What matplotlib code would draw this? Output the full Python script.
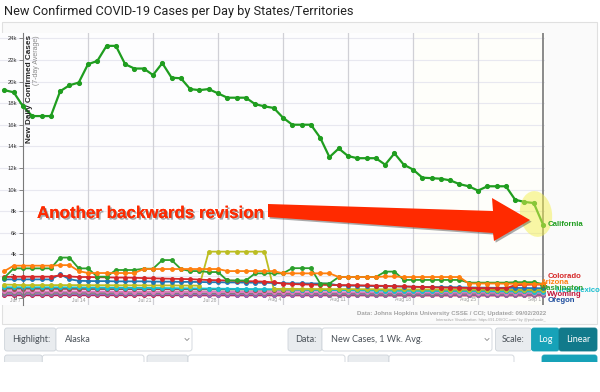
import numpy as np
import pandas as pd
import matplotlib
matplotlib.use("Agg")
import matplotlib.pyplot as plt
import matplotlib.dates as mdates
from matplotlib.patches import Rectangle, Ellipse, Polygon, FancyBboxPatch
import matplotlib.patheffects as pe

# ---------------- data ----------------
dates = pd.date_range("2022-07-05", "2022-09-01", freq="D")
week_ticks = pd.to_datetime(["2022-07-07", "2022-07-14", "2022-07-21", "2022-07-28", "2022-08-04",
                             "2022-08-11", "2022-08-18", "2022-08-25", "2022-09-01"])
week_labels = ["Jul 7", "Jul 14", "Jul 21", "Jul 28", "Aug 4", "Aug 11", "Aug 18", "Aug 25", "Sep 1"]
y_ticks = [0, 2, 4, 6, 8, 10, 12, 14, 16, 18, 20, 22, 24]
y_tick_labels = ["0", "2k", "4k", "6k", "8k", "10k", "12k", "14k", "16k", "18k", "20k", "22k", "24k"]

# values in thousands of cases (7-day average)
california = [19.2, 19.0, 17.7, 16.8, 16.8, 16.8, 19.1, 19.65, 19.9, 21.6,
              21.9, 23.3, 23.3, 21.6, 21.2, 21.2, 20.6, 21.7, 20.35, 20.3,
              19.3, 19.2, 19.3, 18.9, 18.5, 18.5, 18.5, 17.9, 17.7, 17.55,
              16.65, 16.0, 16.0, 16.0, 14.8, 13.0, 13.8, 13.1, 12.9, 12.9,
              12.9, 12.3, 13.35, 12.3, 11.85, 11.1, 11.05, 11.0, 10.85, 10.5,
              10.3, 9.9, 10.3, 10.3, 10.3, 9.05, 8.85, 8.75, 6.75]
arizona = [2.45, 2.95, 2.95, 2.95, 2.95, 2.95, 3.0, 3.0, 2.45, 2.27,
           2.27, 2.27, 2.27, 2.27, 2.27, 2.64, 2.64, 2.64, 2.64, 2.64,
           2.64, 2.64, 2.64, 2.64, 2.45, 2.45, 2.45, 2.45, 2.45, 2.45,
           2.24, 2.24, 2.24, 2.24, 2.24, 2.24, 1.9, 1.9, 1.9, 1.9,
           1.9, 1.95, 1.95, 1.9, 1.9, 1.9, 1.9, 1.9, 1.9, 1.9,
           1.3, 1.3, 1.3, 1.3, 1.28, 1.28, 1.28, 1.25, 1.25]
washington = [1.85, 2.7, 2.7, 2.7, 2.7, 2.7, 3.7, 3.7, 2.7, 2.7,
              1.93, 1.93, 2.55, 2.55, 2.55, 2.67, 2.67, 3.47, 3.47, 2.64,
              2.45, 2.45, 2.36, 2.36, 1.58, 1.58, 1.58, 2.24, 2.24, 2.24,
              2.24, 2.72, 2.72, 2.72, 1.3, 1.3, 1.9, 1.9, 1.9, 1.9,
              1.9, 2.4, 2.4, 1.63, 1.63, 1.63, 1.63, 1.63, 1.63, 1.63,
              1.38, 1.38, 1.38, 1.38, 1.38, 1.42, 1.42, 1.42, 1.25]
colorado = [1.9, 1.93, 1.93, 1.93, 1.93, 1.93, 2.05, 1.95, 1.9, 1.9,
            1.88, 1.87, 1.85, 1.85, 1.83, 1.8, 1.78, 1.76, 1.74, 1.72,
            1.7, 1.66, 1.62, 1.6, 1.58, 1.55, 1.52, 1.5, 1.47, 1.4,
            1.3, 1.25, 1.22, 1.2, 1.18, 1.16, 1.15, 1.15, 1.13, 1.12,
            1.1, 1.08, 1.05, 1.03, 1.0, 0.98, 0.95, 0.93, 0.92, 0.9,
            0.88, 0.87, 0.86, 0.85, 0.86, 1.15, 1.18, 1.2, 1.2]
oregon = [1.68, 1.68, 1.68, 1.68, 1.68, 1.68, 2.15, 1.7, 1.55, 1.53,
          1.52, 1.52, 1.5, 1.5, 1.5, 1.5, 1.48, 1.47, 1.47, 1.45,
          1.45, 1.44, 1.42, 1.42, 1.4, 1.4, 1.38, 1.38, 1.36, 1.35,
          1.32, 1.31, 1.31, 1.3, 1.3, 1.28, 1.12, 1.1, 1.1, 1.08,
          1.06, 1.05, 1.03, 1.02, 1.0, 0.98, 0.97, 0.96, 0.95, 0.94,
          0.93, 0.92, 0.91, 0.9, 0.9, 0.89, 0.88, 0.87, 0.86]
olive_state = [1.2, 1.18, 1.15, 1.15, 1.15, 1.15, 1.15, 1.15, 1.15, 1.14,
               1.14, 1.14, 1.13, 1.13, 1.13, 1.12, 1.12, 1.12, 1.12, 1.11,
               1.11, 1.1, 4.25, 4.25, 4.25, 4.25, 4.25, 4.25, 4.25, 0.8,
               0.8, 0.8, 0.79, 0.79, 0.79, 0.78, 0.78, 0.78, 0.77, 0.77,
               0.77, 0.76, 0.76, 0.76, 0.75, 0.75, 0.75, 0.74, 0.74, 0.74,
               0.73, 0.73, 0.73, 0.72, 0.72, 0.72, 0.71, 0.71, 0.7]
new_mexico = [0.95, 0.95, 0.95, 0.95, 0.95, 0.95, 0.95, 0.94, 0.94, 0.93,
              0.93, 0.92, 0.92, 0.91, 0.9, 0.9, 0.89, 0.88, 0.87, 0.86,
              0.85, 0.84, 0.83, 0.82, 0.81, 0.8, 0.79, 0.78, 0.77, 0.76,
              0.75, 0.74, 0.73, 0.72, 0.71, 0.7, 0.69, 0.68, 0.67, 0.66,
              0.65, 0.64, 0.63, 0.62, 0.62, 0.61, 0.61, 0.6, 0.6, 0.59,
              0.59, 0.58, 0.58, 0.57, 0.57, 0.56, 0.56, 0.55, 0.55]
brown_state = [0.82, 0.82, 0.82, 0.81, 0.81, 0.81, 0.8, 0.8, 0.8, 0.79,
               0.79, 0.79, 0.78, 0.78, 0.78, 0.77, 0.77, 0.77, 0.76, 0.76,
               0.76, 0.75, 0.75, 0.75, 0.74, 0.74, 0.74, 0.73, 0.73, 0.73,
               0.72, 0.72, 0.72, 0.71, 0.71, 0.71, 0.7, 0.7, 0.7, 0.69,
               0.69, 0.69, 0.68, 0.68, 0.68, 0.67, 0.67, 0.67, 0.66, 0.66,
               0.66, 0.65, 0.65, 0.65, 0.64, 0.64, 0.64, 0.63, 0.63]
pink_state = [0.58, 0.58, 0.58, 0.58, 0.57, 0.57, 0.57, 0.57, 0.56, 0.56,
              0.56, 0.56, 0.55, 0.55, 0.55, 0.55, 0.54, 0.54, 0.54, 0.54,
              0.53, 0.53, 0.53, 0.53, 0.52, 0.52, 0.52, 0.52, 0.51, 0.51,
              0.51, 0.51, 0.5, 0.5, 0.5, 0.5, 0.49, 0.49, 0.49, 0.49,
              0.48, 0.48, 0.48, 0.48, 0.47, 0.47, 0.47, 0.47, 0.46, 0.46,
              0.46, 0.46, 0.45, 0.45, 0.45, 0.45, 0.44, 0.44, 0.44]
grey_state = [0.44, 0.44, 0.44, 0.44, 0.44, 0.43, 0.43, 0.43, 0.43, 0.43,
              0.42, 0.42, 0.42, 0.42, 0.42, 0.41, 0.41, 0.41, 0.41, 0.41,
              0.4, 0.4, 0.4, 0.4, 0.4, 0.39, 0.39, 0.39, 0.39, 0.39,
              0.38, 0.38, 0.38, 0.38, 0.38, 0.37, 0.37, 0.37, 0.37, 0.37,
              0.36, 0.36, 0.36, 0.36, 0.36, 0.35, 0.35, 0.35, 0.35, 0.35,
              0.34, 0.34, 0.34, 0.34, 0.34, 0.33, 0.33, 0.33, 0.33]
purple_state = [0.3, 0.3, 0.3, 0.3, 0.3, 0.3, 0.3, 0.3, 0.3, 0.29,
                0.29, 0.29, 0.29, 0.29, 0.29, 0.29, 0.29, 0.29, 0.29, 0.28,
                0.28, 0.28, 0.28, 0.28, 0.28, 0.28, 0.28, 0.28, 0.28, 0.27,
                0.27, 0.27, 0.27, 0.27, 0.27, 0.27, 0.27, 0.27, 0.27, 0.26,
                0.26, 0.26, 0.26, 0.26, 0.26, 0.26, 0.26, 0.26, 0.26, 0.25,
                0.25, 0.25, 0.25, 0.25, 0.25, 0.25, 0.25, 0.25, 0.25]
wyoming = [0.21, 0.21, 0.21, 0.21, 0.21, 0.21, 0.21, 0.21, 0.21, 0.21,
           0.21, 0.21, 0.21, 0.21, 0.21, 0.21, 0.21, 0.21, 0.21, 0.21,
           0.2, 0.2, 0.2, 0.2, 0.2, 0.2, 0.2, 0.2, 0.2, 0.2,
           0.2, 0.2, 0.2, 0.2, 0.2, 0.2, 0.2, 0.2, 0.2, 0.2,
           0.19, 0.19, 0.19, 0.19, 0.19, 0.19, 0.19, 0.19, 0.19, 0.19,
           0.19, 0.19, 0.19, 0.19, 0.19, 0.19, 0.19, 0.19, 0.19]

# ---------------- figure ----------------
W, H = 600, 392
fig = plt.figure(figsize=(W / 100, H / 100), dpi=100)
fig.patch.set_facecolor("white")


def px_axes(z):
    a = fig.add_axes([0, 0, 1, 1], zorder=z)
    a.set_xlim(0, W)
    a.set_ylim(H, 0)
    a.axis("off")
    a.patch.set_visible(False)
    return a


bg = px_axes(0)
bg.add_patch(Rectangle((2, 22), 595, 302, facecolor="#fafafa", edgecolor="#e0e0e0", lw=0.8))

fig.text(4 / W, 1 - 11 / H, "New Confirmed COVID-19 Cases per Day by States/Territories",
         fontsize=9.2, family="Roboto", weight="normal", color="#222222", va="center", ha="left")

# main plot axes
ax = fig.add_axes([0.25 / W, 1 - 305 / H, 544.65 / W, 272 / H], zorder=1)
x0 = mdates.date2num(dates[0]) - 0.45
x1 = mdates.date2num(dates[-1]) + 0.2
ax.set_xlim(x0, x1)
ax.set_ylim(-0.69, 24.49)
ax.set_facecolor("#fdfdfe")
ax.axvspan(mdates.date2num(pd.Timestamp("2022-08-18")), x1, color="#fefefa", zorder=0.1, lw=0)

for s in ["top", "right", "bottom"]:
    ax.spines[s].set_visible(False)
ax.spines["left"].set_position(("data", mdates.date2num(week_ticks[0])))
ax.spines["left"].set_color("#7a7a7a")
ax.spines["left"].set_linewidth(0.8)
ax.set_yticks(y_ticks)
ax.set_yticklabels(y_tick_labels, family="Liberation Sans")
ax.tick_params(axis="y", length=3, width=0.6, color="#777777", labelsize=4.2,
               labelcolor="#333333", pad=1)
ax.set_xticks([])

for v in y_ticks[1:]:
    ax.axhline(v, color="#e8e8f0", lw=0.8, zorder=0.5)
for d in week_ticks[1:-1]:
    ax.axvline(mdates.date2num(d), color="#d0d0d6", lw=0.9, zorder=0.6)
ax.axvline(mdates.date2num(week_ticks[-1]), color="#8a8a8a", lw=1.4, zorder=0.7)

for d, lab in zip(week_ticks, week_labels):
    ax.annotate(lab, xy=(mdates.date2num(d), 5 / 272), xycoords=ax.get_xaxis_transform(),
                xytext=(-1.5, 0), textcoords="offset points", ha="right", va="center",
                fontsize=3.6, color="#999999", family="Liberation Sans")

series = [
    (wyoming, "#c0143c"),
    (purple_state, "#9467bd"),
    (grey_state, "#7f7f7f"),
    (pink_state, "#e377c2"),
    (brown_state, "#8c564b"),
    (new_mexico, "#17becf"),
    (olive_state, "#bcbd22"),
    (oregon, "#1f77b4"),
    (colorado, "#d62728"),
    (washington, "#2ca02c"),
    (arizona, "#ff7f0e"),
]
xd = mdates.date2num(dates)
for i, (vals, col) in enumerate(series):
    ax.plot(xd, vals, "-o", color=col, lw=1.3, ms=2.5, zorder=2 + i * 0.1, clip_on=False)
ax.plot(xd, california, "-o", color="#1f9d1f", lw=1.6, ms=2.7, zorder=4, clip_on=False)

# y axis title (inside plot)
fg = px_axes(3)
fg.text(29.5, 35, "New Daily Confirmed Cases", rotation=90, ha="center", va="top",
        fontsize=5.9, weight="bold", color="#222222", family="Liberation Sans")
fg.text(37, 35, "(7-day Average)", rotation=90, ha="center", va="top",
        fontsize=5.0, color="#8a8a8a", family="Liberation Sans")

# highlight ellipse
fg.add_patch(Ellipse((536, 214), 32, 46, angle=-8, facecolor="#f3ef4f", alpha=0.5, edgecolor="none"))

# right-side labels
lab_kw = dict(fontsize=5.6, weight="bold", family="Liberation Sans", va="center", ha="left")
fg.text(548, 224, "California", color="#1f9d1f", **lab_kw)
fg.text(548, 277, "Colorado", color="#d62728", **lab_kw)
fg.text(541, 283, "Arizona", color="#ff7f0e", **lab_kw)
fg.text(556, 291, "New Mexico", color="#17becf", **lab_kw)
fg.text(540, 288.5, "Washington", color="#2ca02c", **lab_kw)
fg.text(547, 294.5, "Wyoming", color="#c0143c", **lab_kw)
fg.text(548, 300.5, "Oregon", color="#1f4e9e", **lab_kw)

# source text
fg.text(546, 313.5, "Data: Johns Hopkins University CSSE / CCI; Updated: 09/02/2022",
        ha="right", va="center", fontsize=4.4, weight="bold", color="#a3a3a3",
        family="Liberation Sans")
fg.text(546, 319.5, "Interactive Visualization: https://91-DIVOC.com/ by @profwade_",
        ha="right", va="center", fontsize=2.8, color="#a3a3a3", family="Liberation Sans")

# annotation arrow + text
shadow = [pe.SimplePatchShadow(offset=(1.2, -1.2), shadow_rgbFace="#444444", alpha=0.45), pe.Normal()]
arrow = Polygon([(268, 204), (493, 211), (492, 198), (530, 220), (494, 241), (493, 233), (268, 217)],
                closed=True, facecolor="#ff2a00", edgecolor="none", path_effects=shadow)
fg.add_patch(arrow)
fg.text(37, 218, "Another backwards revision", fontsize=12.2, weight="bold",
        family="Liberation Sans", color="#ff2a00", va="baseline", ha="left",
        path_effects=[pe.withStroke(linewidth=1.5, foreground="white"),
                      pe.SimplePatchShadow(offset=(1.2, -1.2), shadow_rgbFace="#444444", alpha=0.45),
                      pe.Normal()])

# ---------------- UI controls ----------------
def box(xa, xb, ya, yb, fc, ec="#ced4da", lw=0.6):
    bg.add_patch(FancyBboxPatch((xa, ya), xb - xa, yb - ya,
                                boxstyle="round,pad=0,rounding_size=2.5",
                                facecolor=fc, edgecolor=ec, lw=lw))


ui = dict(fontsize=6.5, family="Lato", color="#495057", va="center")
ya, yb = 328, 351
ym = (ya + yb) / 2
box(4.6, 56, ya, yb, "#e9ecef")
box(56, 192, ya, yb, "white")
box(288, 322, ya, yb, "#e9ecef")
box(322, 492, ya, yb, "white")
box(495.5, 531.5, ya, yb, "#e9ecef")
box(531.5, 559, ya, yb, "#17a2b8", ec="#17a2b8")
box(559, 597, ya, yb, "#117a8b", ec="#117a8b")
bg.text(12, ym, "Highlight:", **ui)
bg.text(65, ym, "Alaska", **ui)
bg.text(295, ym, "Data:", **ui)
bg.text(331, ym, "New Cases, 1 Wk. Avg.", **ui)
bg.text(502, ym, "Scale:", **ui)
bg.text(545, ym, "Log", fontsize=6.5, family="Lato", color="white", va="center", ha="center")
bg.text(578, ym, "Linear", fontsize=6.5, family="Lato", color="white", va="center", ha="center")
for cx in (187, 487):
    bg.plot([cx - 2, cx, cx + 2], [ym - 1, ym + 1, ym - 1], color="#888888", lw=0.6)

ya2, yb2 = 355, 375
box(4.6, 42.3, ya2, yb2, "#e9ecef")
box(42.3, 144, ya2, yb2, "white")
box(147, 188, ya2, yb2, "#e9ecef")
box(188, 345, ya2, yb2, "white")
box(348, 389, ya2, yb2, "#e9ecef")
box(389, 514, ya2, yb2, "white")
box(542, 597, ya2, yb2, "#17a2b8", ec="#17a2b8")
bg.add_patch(Rectangle((0, 361.5), W, H - 361.5, facecolor="white", edgecolor="none"))

fig.savefig("out.png", dpi=100)
